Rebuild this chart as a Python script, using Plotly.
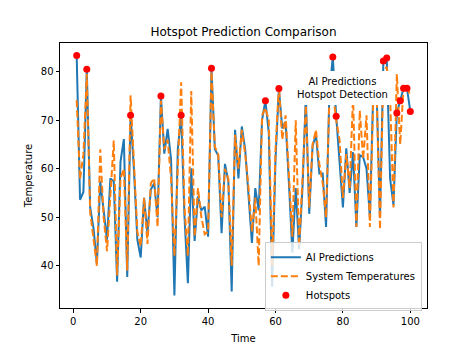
import plotly.graph_objects as go

time = list(range(1, 101))
ai_predictions = [
    83.3, 53.6, 55.2, 80.5, 52, 47.7, 40.4, 57.4, 51.4, 45.4,
    58, 57.4, 36.7, 61.4, 66.1, 37.7, 71, 59.7, 45.4, 41.7,
    54, 46.7, 55.7, 57, 50, 75, 63.1, 68.2, 62, 33.9,
    64, 71, 50, 36.4, 60.1, 45.1, 54.3, 51.4, 52.2, 46,
    80.7, 64, 62.7, 46.7, 61, 57.4, 34.7, 68, 58, 68.7,
    64, 54.7, 44.7, 56, 51.4, 70, 74, 67.4, 35.7, 62,
    76.5, 68.3, 69.7, 56.7, 42.7, 56, 43.4, 56, 75, 50.7,
    64.7, 67, 59, 59, 48, 76, 83, 70.8, 62, 52,
    64.2, 55, 63.4, 48, 62.8, 62.4, 60, 50, 76, 76,
    50, 82.2, 82.8, 58, 52.5, 71.5, 74, 76.6, 76.6, 71.8,
]
system_temperatures = [
    74.1, 57.8, 63, 79.5, 51, 46, 40, 64, 50, 43,
    55, 65.8, 38, 58, 60, 39, 75.1, 62, 47, 44,
    54, 44.5, 57, 58, 48, 74, 64, 66, 58, 42,
    62, 77.8, 52, 42, 76, 46, 56, 50, 46.5, 47,
    80, 64.5, 63, 50, 60, 58, 40, 67, 60, 68,
    63, 56, 47, 54, 40, 71, 72.5, 70, 40, 64,
    77, 66, 71, 58, 46, 70, 44, 58, 73, 52,
    65, 68, 61, 57, 50, 75, 76, 70, 66, 54,
    63, 56, 75, 48, 72, 62, 71, 48, 74, 76,
    47.5, 80, 81, 75, 52, 79.5, 65, 77, 77, 75,
]
hotspot_times = [1, 4, 17, 26, 32, 41, 57, 61, 77, 78, 92, 93, 96, 97, 98, 99, 100]
hotspot_values = [ai_predictions[t - 1] for t in hotspot_times]

FONT = "DejaVu Sans"
# page body has an 8px default margin; shrink the figure so it fits the window
W, H = 466, 347

fig = go.Figure()
fig.add_trace(go.Scatter(
    x=time, y=ai_predictions, mode="lines", name="AI Predictions",
    line=dict(color="#1f77b4", width=2),
))
fig.add_trace(go.Scatter(
    x=time, y=system_temperatures, mode="lines", name="System Temperatures",
    line=dict(color="#ff7f0e", width=2, dash="7px,3px"),
))
fig.add_trace(go.Scatter(
    x=hotspot_times, y=hotspot_values, mode="markers", name="Hotspots",
    marker=dict(color="red", size=7),
))

fig.add_annotation(
    x=80, y=76.7, xref="x", yref="y",
    text="AI Predictions<br>Hotspot Detection",
    showarrow=False, bgcolor="white", borderpad=5, borderwidth=0,
    font=dict(family=FONT, size=10, color="black"),
    align="center",
)

axis_common = dict(
    showgrid=False, zeroline=False, showline=True, mirror=True,
    linecolor="black", linewidth=1, ticks="outside", ticklen=3.5,
    tickcolor="black", tickfont=dict(family=FONT, size=10, color="black"),
)

fig.update_layout(
    width=W, height=H,
    margin=dict(l=52, r=47, t=35, b=39),
    paper_bgcolor="white", plot_bgcolor="white",
    font=dict(family=FONT, size=10, color="black"),
    title=dict(text="Hotspot Prediction Comparison", x=0.5, xref="paper",
               y=1 - 23.5 / H, yref="container", yanchor="middle",
               xanchor="center", font=dict(family=FONT, size=12, color="black")),
    xaxis=dict(range=[-3.95, 104.95], tickvals=[0, 20, 40, 60, 80, 100],
               title=dict(text="Time", font=dict(family=FONT, size=10), standoff=9),
               **axis_common),
    yaxis=dict(range=[31.3, 85.9], tickvals=[40, 50, 60, 70, 80],
               title=dict(text="Temperature", font=dict(family=FONT, size=10), standoff=6),
               **axis_common),
    legend=dict(x=0.986, y=-0.01, xanchor="right", yanchor="bottom",
                bgcolor="rgba(255,255,255,0.8)", bordercolor="#cccccc", borderwidth=1,
                font=dict(family=FONT, size=10, color="black"),
                itemwidth=30, tracegroupgap=0),
    showlegend=True,
)

fig.write_html("out.html")
